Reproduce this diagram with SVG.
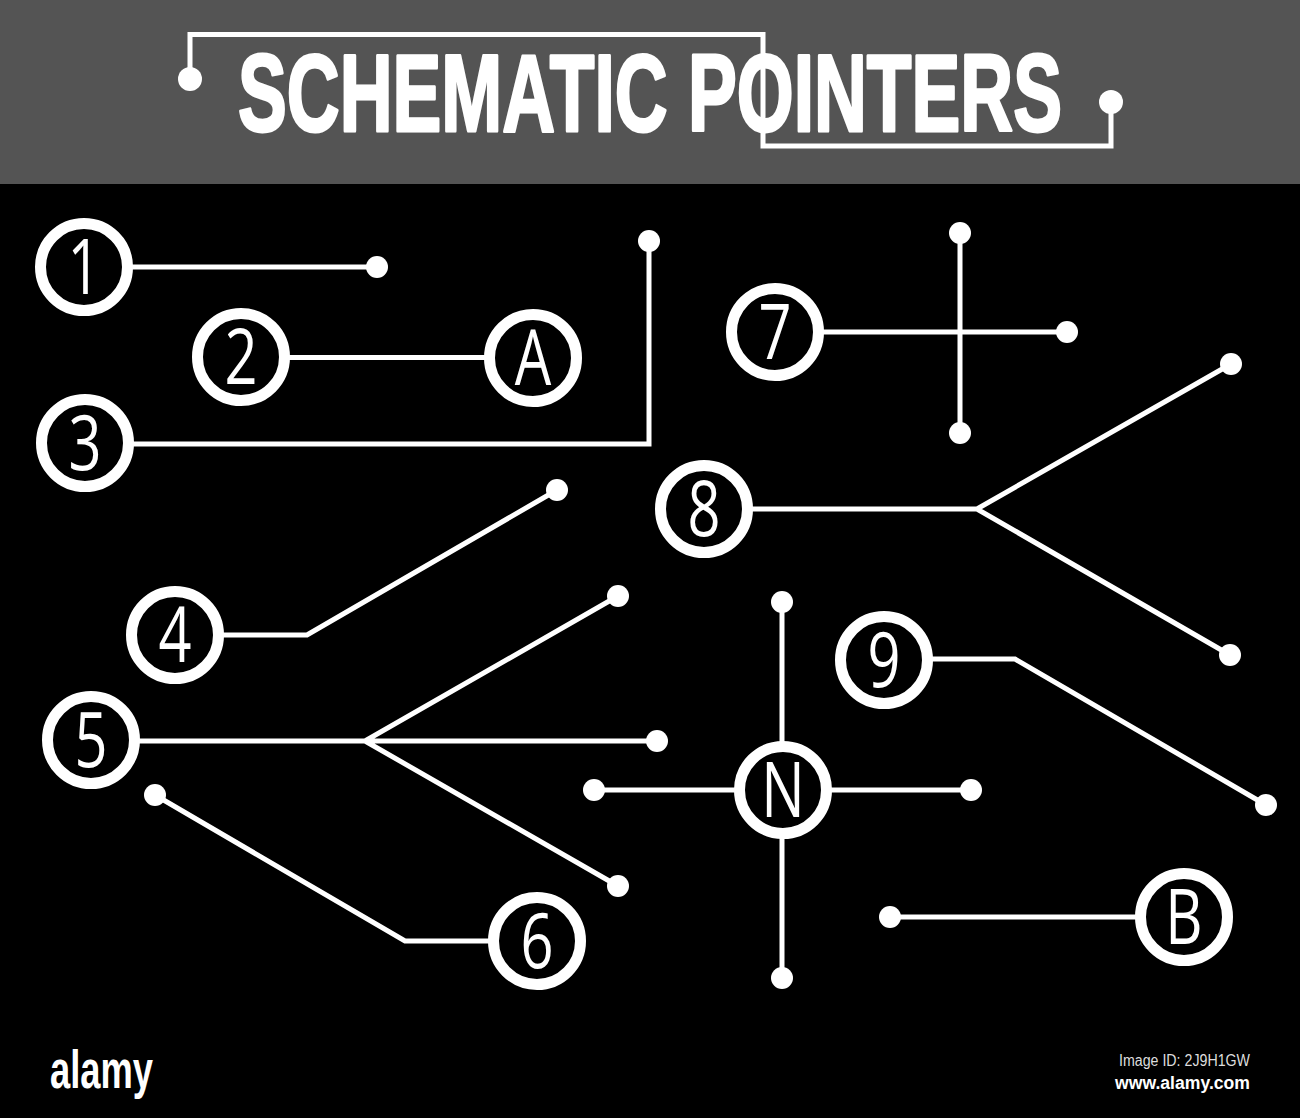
<svg xmlns="http://www.w3.org/2000/svg" width="1300" height="1118" viewBox="0 0 1300 1118">
<defs>
<style>
.ln{fill:none;stroke:#fff;stroke-width:5;stroke-linejoin:miter;stroke-linecap:butt}
.ring{fill:#000;stroke:#fff;stroke-width:11}
.dot{fill:#fff}
.lbl{font-family:"Open Sans","Liberation Sans",sans-serif;font-weight:400;font-size:76px;fill:#fff;text-anchor:middle}
.title{font-family:"Liberation Sans","Open Sans",sans-serif;font-weight:700;font-size:110px;fill:#fff;stroke:#fff;stroke-width:3;stroke-linejoin:round}
</style>
</defs>
<rect x="0" y="0" width="1300" height="1118" fill="#000"/>
<rect x="0" y="0" width="1300" height="184" fill="#545454"/>
<g id="title">
<text class="title" x="238" y="131" textLength="824" lengthAdjust="spacingAndGlyphs">SCHEMATIC POINTERS</text>
<path class="ln" d="M190 79 V34.5 H763 V146 H1111 V102"/>
<circle class="dot" cx="190" cy="79" r="12"/>
<circle class="dot" cx="1111" cy="102" r="12"/>
</g>
<g id="connectors">
<path class="ln" d="M84 267 H377"/>
<path class="ln" d="M241 357.5 H533"/>
<path class="ln" d="M85 444 H649 V241"/>
<path class="ln" d="M175 635 H307 L557 490"/>
<path class="ln" d="M91 741 H365 L618 596 M365 741 H657 M365 741 L618 886"/>
<path class="ln" d="M537 941 H405 L155 795"/>
<path class="ln" d="M775 332 H1067 M960 233 V433"/>
<path class="ln" d="M704 509 H977 L1231 364 M977 509 L1230 655"/>
<path class="ln" d="M884 659 H1015 L1266 805"/>
<path class="ln" d="M594 790 H971 M782 602 V978"/>
<path class="ln" d="M890 917 H1184"/>
<g class="dot">
<circle cx="377" cy="267" r="11"/>
<circle cx="649" cy="241" r="11"/>
<circle cx="557" cy="490" r="11"/>
<circle cx="618" cy="596" r="11"/>
<circle cx="657" cy="741" r="11"/>
<circle cx="618" cy="886" r="11"/>
<circle cx="155" cy="795" r="11"/>
<circle cx="1067" cy="332" r="11"/>
<circle cx="960" cy="233" r="11"/>
<circle cx="960" cy="433" r="11"/>
<circle cx="1231" cy="364" r="11"/>
<circle cx="1230" cy="655" r="11"/>
<circle cx="1266" cy="805" r="11"/>
<circle cx="594" cy="790" r="11"/>
<circle cx="971" cy="790" r="11"/>
<circle cx="782" cy="602" r="11"/>
<circle cx="782" cy="978" r="11"/>
<circle cx="890" cy="917" r="11"/>
</g>
</g>
<g id="node-1"><circle class="ring" cx="84" cy="267" r="43.5"/><text class="lbl" transform="translate(84 294) scale(0.76 1)">1</text></g>
<g id="node-2"><circle class="ring" cx="241" cy="357" r="43.5"/><text class="lbl" transform="translate(241 384) scale(0.76 1)">2</text></g>
<g id="node-A"><circle class="ring" cx="533" cy="358" r="43.5"/><text class="lbl" transform="translate(533 385) scale(0.76 1)">A</text></g>
<g id="node-3"><circle class="ring" cx="85" cy="443" r="43.5"/><text class="lbl" transform="translate(85 470) scale(0.76 1)">3</text></g>
<g id="node-4"><circle class="ring" cx="175" cy="635" r="43.5"/><text class="lbl" transform="translate(175 662) scale(0.76 1)">4</text></g>
<g id="node-5"><circle class="ring" cx="91" cy="740" r="43.5"/><text class="lbl" transform="translate(91 767) scale(0.76 1)">5</text></g>
<g id="node-6"><circle class="ring" cx="537" cy="941" r="43.5"/><text class="lbl" transform="translate(537 968) scale(0.76 1)">6</text></g>
<g id="node-7"><circle class="ring" cx="775" cy="332" r="43.5"/><text class="lbl" transform="translate(775 359) scale(0.76 1)">7</text></g>
<g id="node-8"><circle class="ring" cx="704" cy="509" r="43.5"/><text class="lbl" transform="translate(704 536) scale(0.76 1)">8</text></g>
<g id="node-9"><circle class="ring" cx="884" cy="660" r="43.5"/><text class="lbl" transform="translate(884 687) scale(0.76 1)">9</text></g>
<g id="node-N"><circle class="ring" cx="783" cy="790" r="43.5"/><text class="lbl" transform="translate(783 817) scale(0.76 1)">N</text></g>
<g id="node-B"><circle class="ring" cx="1184" cy="917" r="43.5"/><text class="lbl" transform="translate(1184 944) scale(0.76 1)">B</text></g>
<g id="footer">
<text x="50" y="1088" font-family="Liberation Sans, sans-serif" font-weight="700" font-size="54" fill="#fff" textLength="103" lengthAdjust="spacingAndGlyphs">alamy</text>
<text x="1119" y="1066" font-family="Liberation Sans, sans-serif" font-size="16" fill="#ddd" textLength="131" lengthAdjust="spacingAndGlyphs">Image ID: 2J9H1GW</text>
<text x="1115" y="1089" font-family="Liberation Sans, sans-serif" font-weight="700" font-size="18" fill="#fff" textLength="135" lengthAdjust="spacingAndGlyphs">www.alamy.com</text>
</g>
</svg>
